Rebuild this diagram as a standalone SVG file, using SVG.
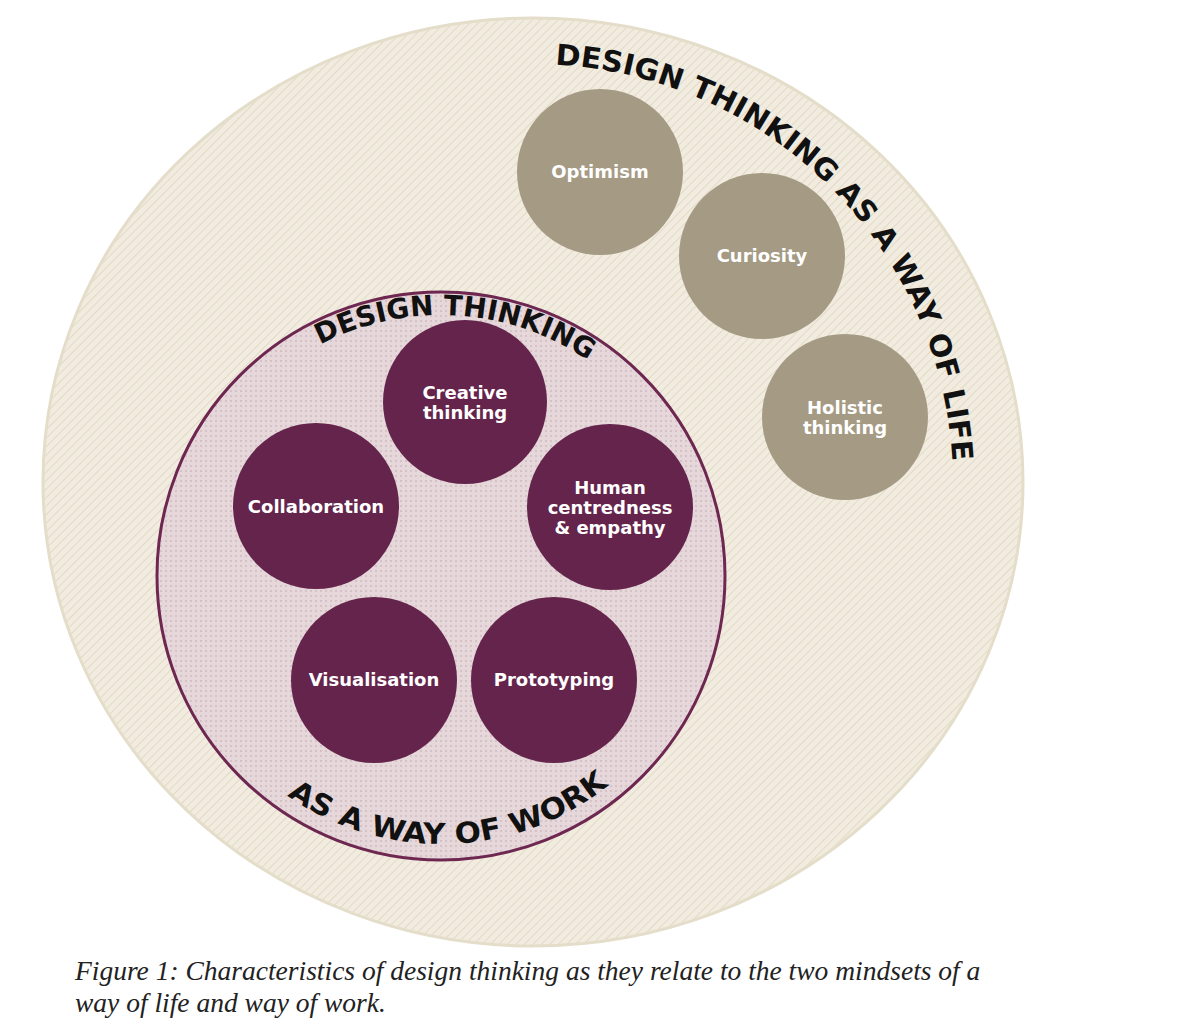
<svg xmlns="http://www.w3.org/2000/svg" width="1200" height="1031" viewBox="0 0 1200 1031">
<defs>
<pattern id="hatch" width="6" height="6" patternUnits="userSpaceOnUse" patternTransform="rotate(45)">
<rect width="6" height="6" fill="#f1ecdf"/><line x1="0" y1="0" x2="0" y2="6" stroke="#e2dac6" stroke-width="2"/>
</pattern>
<pattern id="dots" width="5" height="5" patternUnits="userSpaceOnUse">
<rect width="5" height="5" fill="#e6d8da"/><rect width="2" height="2" fill="#d6c2c6"/>
</pattern>
<path id="outerArc" d="M 533 64 A 420 420 0 0 1 533 904"/>
<path id="innerTop" d="M 180 576 A 261 261 0 0 1 702 576"/>
<path id="innerBot" d="M 173 576 A 268 268 0 0 0 709 576"/>
</defs>
<style>
.arc{font-family:"DejaVu Sans",sans-serif;font-weight:bold;fill:#111}
.lbl{font-family:"DejaVu Sans",sans-serif;font-weight:bold;font-size:18px;fill:#fff;text-anchor:middle}
.p{fill:#65244c}.t{fill:#a59a83}
.cap{font-family:"Liberation Serif",serif;font-style:italic;font-size:27.5px;fill:#222}
</style>
<rect width="1200" height="1031" fill="#fff"/>
<g id="life">
<ellipse cx="533" cy="482" rx="490" ry="464" fill="url(#hatch)" stroke="#e4ddca" stroke-width="3"/>
<text class="arc" font-size="29"><textPath href="#outerArc" startOffset="22" textLength="615" lengthAdjust="spacingAndGlyphs">DESIGN THINKING AS A WAY OF LIFE</textPath></text>
</g>
<g id="work">
<circle cx="441" cy="576" r="284" fill="url(#dots)" stroke="#6d2750" stroke-width="3"/>
<text class="arc" font-size="28"><textPath href="#innerTop" startOffset="284" textLength="282" lengthAdjust="spacingAndGlyphs">DESIGN THINKING</textPath></text>
<text class="arc" font-size="29"><textPath href="#innerBot" startOffset="257" textLength="345" lengthAdjust="spacingAndGlyphs">AS A WAY OF WORK</textPath></text>
</g>
<g id="optimism"><circle class="t" cx="600" cy="172" r="83"/><text class="lbl" x="600" y="178">Optimism</text></g>
<g id="curiosity"><circle class="t" cx="762" cy="256" r="83"/><text class="lbl" x="762" y="262">Curiosity</text></g>
<g id="holistic"><circle class="t" cx="845" cy="417" r="83"/><text class="lbl" x="845" y="414">Holistic</text><text class="lbl" x="845" y="434">thinking</text></g>
<g id="creative"><circle class="p" cx="465" cy="402" r="82"/><text class="lbl" x="465" y="399">Creative</text><text class="lbl" x="465" y="419">thinking</text></g>
<g id="collab"><circle class="p" cx="316" cy="506" r="83"/><text class="lbl" x="316" y="513">Collaboration</text></g>
<g id="human"><circle class="p" cx="610" cy="507" r="83"/><text class="lbl" x="610" y="494">Human</text><text class="lbl" x="610" y="514">centredness</text><text class="lbl" x="610" y="534">&amp; empathy</text></g>
<g id="visual"><circle class="p" cx="374" cy="680" r="83"/><text class="lbl" x="374" y="686">Visualisation</text></g>
<g id="proto"><circle class="p" cx="554" cy="680" r="83"/><text class="lbl" x="554" y="686">Prototyping</text></g>
<g id="connectors"/>
<text class="cap" x="75" y="980">Figure 1: Characteristics of design thinking as they relate to the two mindsets of a</text>
<text class="cap" x="75" y="1012">way of life and way of work.</text>
</svg>
